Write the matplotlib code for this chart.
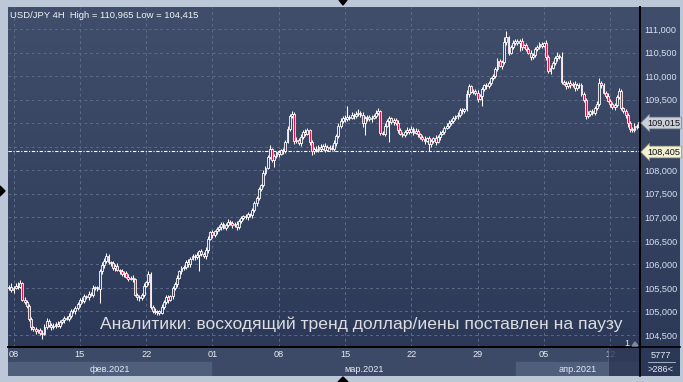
import numpy as np
import pandas as pd
import matplotlib
matplotlib.use('Agg')
import matplotlib.pyplot as plt
from matplotlib.patches import Rectangle, Polygon
from matplotlib.lines import Line2D

plt.rcParams['font.family'] = ['Liberation Sans', 'DejaVu Sans']

W, H, DPI = 683, 382, 100

# ---------------- data ----------------
symbol = 'USD/JPY'
timeframe = '4H'
first_bar_time = '2021-02-05 16:00'
first_open = 105.50
closes = [
    105.52, 105.45, 105.50, 105.55, 105.53, 105.60, 105.25, 105.20, 105.12, 104.85,
    104.66, 104.62, 104.58, 104.60, 104.55, 104.52, 104.68, 104.80, 104.72, 104.66,
    104.70, 104.74, 104.70, 104.78, 104.82, 104.86, 104.84, 104.90, 105.02, 105.00,
    105.08, 105.15, 105.25, 105.22, 105.33, 105.30, 105.38, 105.36, 105.50, 105.52,
    105.48, 105.85, 105.98, 106.08, 106.18, 106.05, 106.02, 105.92, 105.96, 105.88,
    105.85, 105.80, 105.82, 105.74, 105.70, 105.72, 105.68, 105.36, 105.30, 105.28,
    105.35, 105.55, 105.62, 105.80, 105.10, 105.02, 104.98, 105.00, 104.97, 105.10,
    105.20, 105.30, 105.25, 105.32, 105.50, 105.58, 105.72, 105.85, 105.92, 105.95,
    106.05, 106.00, 106.12, 106.18, 106.15, 106.20, 106.28, 106.22, 106.18, 106.30,
    106.55, 106.68, 106.62, 106.70, 106.75, 106.80, 106.85, 106.78, 106.84, 106.90,
    106.88, 106.83, 106.86, 106.80, 106.92, 106.98, 107.02, 107.00, 107.06, 107.04,
    107.15, 107.30, 107.40, 107.60, 107.68, 107.95, 108.05, 108.28, 108.45, 108.22,
    108.30, 108.38, 108.35, 108.42, 108.40, 108.60, 108.88, 109.15, 109.20, 108.62,
    108.65, 108.58, 108.70, 108.82, 108.78, 108.85, 108.60, 108.40, 108.45, 108.42,
    108.50, 108.46, 108.52, 108.44, 108.50, 108.48, 108.45, 108.58, 108.72, 108.95,
    109.05, 109.12, 109.08, 109.14, 109.12, 109.18, 109.15, 109.20, 109.22, 109.18,
    109.00, 109.10, 109.14, 109.08, 109.12, 109.15, 109.22, 109.25, 108.80, 108.78,
    108.95, 109.05, 109.10, 109.02, 109.06, 109.00, 108.85, 108.78, 108.75, 108.82,
    108.86, 108.82, 108.88, 108.80, 108.84, 108.76, 108.70, 108.66, 108.62, 108.68,
    108.55, 108.62, 108.68, 108.60, 108.70, 108.78, 108.82, 108.90, 108.95, 109.00,
    109.05, 109.10, 109.15, 109.18, 109.28, 109.25, 109.30, 109.62, 109.78, 109.66,
    109.68, 109.64, 109.52, 109.58, 109.72, 109.80, 109.78, 109.86, 109.95, 110.00,
    110.15, 110.32, 110.22, 110.30, 110.72, 110.82, 110.50, 110.62, 110.70, 110.74,
    110.70, 110.74, 110.62, 110.66, 110.58, 110.50, 110.40, 110.45, 110.58, 110.62,
    110.68, 110.64, 110.70, 110.40, 110.10, 110.18, 110.28, 110.38, 110.42, 110.40,
    109.88, 109.84, 109.78, 109.86, 109.80, 109.84, 109.74, 109.82, 109.80, 109.62,
    109.50, 109.15, 109.20, 109.26, 109.22, 109.32, 109.40, 109.85, 109.80, 109.64,
    109.58, 109.48, 109.40, 109.34, 109.38, 109.55, 109.68, 109.32, 109.26, 109.18,
    109.00, 108.88, 108.86, 108.95, 108.92, 109.015,
]
# wick lengths above / below the body, in hundredths of a yen
upper_wick = [
    5, 8, 4, 6, 7, 6, 3, 5, 4, 3,
    4, 3, 5, 2, 4, 6, 5, 7, 3, 4,
    5, 3, 6, 4, 3, 5, 4, 6, 3, 4,
    4, 5, 3, 6, 4, 3, 5, 4, 6, 3,
    3, 6, 8, 5, 6, 4, 3, 5, 4, 6,
    3, 5, 4, 3, 6, 4, 5, 3, 4, 6,
    4, 5, 3, 6, 4, 3, 5, 4, 3, 6,
    5, 4, 6, 3, 5, 4, 6, 3, 5, 4,
    4, 6, 3, 5, 4, 6, 3, 5, 4, 6,
    5, 4, 6, 3, 5, 4, 6, 5, 3, 6,
    4, 5, 3, 6, 4, 5, 3, 4, 6, 3,
    5, 4, 6, 5, 3, 6, 4, 5, 8, 3,
    4, 3, 5, 4, 6, 5, 6, 4, 5, 3,
    5, 4, 6, 3, 5, 4, 3, 5, 4, 6,
    3, 5, 4, 6, 3, 4, 5, 6, 4, 5,
    5, 4, 6, 22, 4, 5, 3, 6, 8, 4,
    5, 6, 4, 3, 5, 4, 6, 8, 3, 4,
    5, 4, 6, 3, 5, 4, 6, 5, 3, 4,
    5, 3, 6, 4, 5, 3, 4, 5, 6, 3,
    4, 5, 3, 6, 4, 5, 3, 4, 5, 6,
    4, 5, 3, 6, 4, 5, 3, 8, 5, 4,
    5, 4, 6, 3, 5, 4, 6, 3, 4, 5,
    4, 6, 5, 4, 10, 14.5, 3, 5, 6, 4,
    5, 4, 6, 3, 5, 4, 6, 3, 4, 5,
    4, 5, 3, 6, 4, 5, 3, 4, 10, 5,
    12, 4, 5, 3, 6, 4, 5, 3, 4, 5,
    5, 4, 6, 3, 5, 4, 8, 10, 4, 5,
    4, 5, 3, 6, 4, 5, 6, 4, 3, 5,
    4, 5, 3, 6, 4, 3,
]
lower_wick = [
    5, 4, 6, 3, 5, 4, 3, 5, 4, 6,
    5, 4, 6, 4, 6, 10.5, 3, 5, 4, 6,
    4, 6, 3, 5, 4, 6, 3, 5, 4, 3,
    5, 4, 6, 3, 5, 4, 6, 3, 5, 4,
    4, 30, 5, 6, 4, 5, 6, 4, 5, 3,
    5, 4, 6, 3, 5, 4, 6, 4, 5, 6,
    4, 5, 3, 6, 4, 5, 3, 5, 4, 3,
    5, 4, 6, 3, 5, 4, 6, 3, 5, 4,
    4, 5, 6, 3, 5, 4, 35, 5, 4, 6,
    5, 4, 6, 3, 5, 4, 6, 3, 5, 4,
    4, 5, 3, 6, 4, 5, 3, 4, 6, 3,
    5, 4, 6, 3, 5, 4, 6, 3, 5, 4,
    15, 4, 6, 3, 5, 4, 3, 5, 4, 6,
    5, 4, 6, 3, 5, 4, 6, 8, 5, 4,
    4, 5, 3, 6, 4, 5, 3, 4, 6, 3,
    5, 4, 6, 3, 5, 4, 6, 3, 5, 4,
    8, 26, 5, 4, 6, 3, 5, 4, 6, 3,
    5, 4, 45, 3, 5, 4, 6, 3, 5, 4,
    4, 5, 3, 6, 4, 5, 3, 4, 6, 3,
    14, 5, 4, 6, 3, 5, 4, 6, 3, 5,
    4, 5, 3, 6, 4, 5, 3, 4, 6, 3,
    5, 4, 6, 3, 22, 4, 6, 3, 5, 4,
    4, 5, 3, 6, 4, 5, 6, 3, 5, 4,
    5, 16, 6, 3, 5, 4, 6, 3, 5, 4,
    4, 5, 3, 6, 4, 5, 3, 4, 6, 3,
    5, 4, 6, 3, 5, 4, 6, 3, 5, 4,
    4, 6, 3, 5, 4, 5, 3, 4, 6, 3,
    5, 4, 6, 3, 5, 4, 3, 5, 4, 6,
    8, 6, 5, 4, 5, 3,
]
level_line = 108.405
price_ticks = [104.5, 105.0, 105.5, 106.0, 106.5, 107.0, 107.5,
               108.0, 108.5, 109.0, 109.5, 110.0, 110.5, 111.0]
month_names = {2: 'фев', 3: 'мар', 4: 'апр'}
headline = 'Аналитики: восходящий тренд доллар/иены поставлен на паузу'
footer_top = '5777'
footer_bottom = '>286<'
marker_text = '1'

# ---------------- derived ----------------
n = len(closes)
c = np.array(closes, dtype=float)
o = np.concatenate([[first_open], c[:-1]])
hi = np.maximum(o, c) + np.array(upper_wick) / 100.0
lo = np.minimum(o, c) - np.array(lower_wick) / 100.0
times = pd.date_range(first_bar_time, periods=n * 2, freq='4h')
times = times[times.dayofweek < 5][:n]
x = np.arange(n)


def fmt(v):
    return f"{v:.3f}".replace('.', ',')


def fx(px):
    return px / W


def fy(py):
    return 1 - py / H


# ---------------- figure ----------------
fig = plt.figure(figsize=(W / DPI, H / DPI), dpi=DPI)
fig.patch.set_facecolor('#bcc7d7')

# dark background with vertical gradient
bg = fig.add_axes([fx(8), fy(376), fx(672), 369 / H], zorder=0)
top_col = np.array(matplotlib.colors.to_rgb('#414e6b'))
bot_col = np.array(matplotlib.colors.to_rgb('#2a3756'))
t = np.linspace(0, 1, 256)[:, None]
grad = top_col[None, None, :] * (1 - t[..., None]) + bot_col[None, None, :] * t[..., None]
bg.imshow(grad, aspect='auto', extent=(0, 1, 0, 1))
bg.set_axis_off()

ylo = 111 - (347 - 29) / 47.08
yhi = 111 + (29 - 7) / 47.08

ax = fig.add_axes([fx(8), fy(347), fx(632), 340 / H], zorder=2)
ax.set_facecolor('none')
ax.set_xlim(-0.5, n - 0.5)
ax.set_ylim(ylo, yhi)

# grid
week_starts = [i for i, tm in enumerate(times) if tm.dayofweek == 0 and tm.hour == 0]
for p in price_ticks:
    ax.axhline(p, color='#5b6a88', lw=0.7, ls=(0, (3, 3)), zorder=1)
for i in week_starts:
    ax.axvline(i, color='#5b6a88', lw=0.7, ls=(0, (3, 3)), zorder=1)

# level line
ax.axhline(level_line, color='white', lw=0.8, ls=(0, (3, 1.5, 1, 1.5)), zorder=2)

# candles
ax.vlines(x, lo, hi, color='white', lw=0.75, zorder=3)
up = c >= o
body_b = np.minimum(o, c)
body_h = np.maximum(np.abs(c - o), 0.012)
ax.bar(x[up], body_h[up], bottom=body_b[up], width=0.85, color='#35435f',
       edgecolor='white', linewidth=0.6, zorder=4)
ax.bar(x[~up], body_h[~up], bottom=body_b[~up], width=0.85, color='#e8143f',
       edgecolor='white', linewidth=0.6, zorder=4)

# right axis labels (those hidden under the price boxes are left blank)
boxed = [c[-1], level_line]
ax.yaxis.tick_right()
ax.set_yticks(price_ticks)
ax.set_yticklabels(['' if min(abs(p - b) for b in boxed) < 0.12 else fmt(p) for p in price_ticks])
ax.tick_params(axis='y', length=0, pad=3, labelsize=6.6, labelcolor='#d8e2f2')
ax.set_xticks([])
for s in ['left', 'top']:
    ax.spines[s].set_visible(False)
for s in ['right', 'bottom']:
    ax.spines[s].set_color('black')
    ax.spines[s].set_linewidth(1.2)

# header & headline
fig.text(fx(10), fy(15), f"{symbol} {timeframe}  High = {fmt(hi.max())} Low = {fmt(lo.min())}",
         color='#eef2f8', fontsize=6.8, ha='left', va='center', zorder=5)
ax.text((622 - 8) / 632, 0.068, headline, transform=ax.transAxes, color='#dcdde0',
        fontsize=12.6, ha='right', va='center', zorder=6)

# bottom date panel
bx = fig.add_axes([fx(8), fy(376), fx(632), 29 / H], zorder=1)
bx.set_xlim(-0.5, n - 0.5)
bx.set_ylim(0, 1)
bx.set_axis_off()
bx.add_patch(Rectangle((-0.5, 0), n, 1, color='#3d4a67', zorder=0))
months = pd.Series(times.month)
for k, (m, grp) in enumerate(months.groupby(months, sort=True)):
    a, b = grp.index.min() - 0.5, grp.index.max() + 0.5
    if k % 2 == 0:
        bx.add_patch(Rectangle((a, 0), b - a, 0.5, color='#4f5e7b', zorder=1))
    bx.text((a + b) / 2, 0.24, f"{month_names[m]}.{times[grp.index.min()].year}",
            color='#e6ebf4', fontsize=6.6, ha='center', va='center', zorder=2)
for i in week_starts:
    bx.text(i, 0.74, f"{times[i].day:02d}", color='#e6ebf4', fontsize=6.6,
            ha='center', va='center', zorder=2)
hl_start = 271.2
bx.add_patch(Rectangle((hl_start, 0), n - 0.5 - hl_start, 1, facecolor='#2b3753',
                       alpha=0.8, edgecolor='#5b6a88', lw=0.6, zorder=3))

# frame lines
fig.add_artist(Line2D([fx(640), fx(640)], [fy(7), fy(376)], color='black', lw=1.2, zorder=10))
fig.add_artist(Line2D([fx(8), fx(680)], [fy(347), fy(347)], color='black', lw=1.2, zorder=10))

# bottom-right counters
fig.text(fx(661), fy(355), footer_top, color='#e6ebf4', fontsize=6.6, ha='center', va='center', zorder=5)
fig.add_artist(Line2D([fx(648), fx(675)], [fy(362), fy(362)], color='#b8c2d4', lw=0.6, zorder=5))
fig.text(fx(661), fy(369), footer_bottom, color='#e6ebf4', fontsize=6.6, ha='center', va='center', zorder=5)

# price boxes on the right
fig.text(fx(647), fy(123), fmt(c[-1]), color='#111111', fontsize=6.6, ha='left', va='center', zorder=12,
         bbox=dict(boxstyle='larrow,pad=0.15', fc='#c9ced8', ec='#7d8698', lw=0.5))
fig.text(fx(647), fy(152), fmt(level_line), color='#111111', fontsize=6.6, ha='left', va='center', zorder=12,
         bbox=dict(boxstyle='larrow,pad=0.15', fc='#f3f1d4', ec='#9a987f', lw=0.5))

# small marker near bottom right of plot
fig.text(fx(627), fy(343), marker_text, color='#e6ebf4', fontsize=6.6, ha='center', va='center', zorder=12)
fig.add_artist(Polygon([[fx(632), fy(346)], [fx(638), fy(346)], [fx(635), fy(342)]],
                       closed=True, color='#7d8aa3', zorder=12))

# scroll arrows on the frame
for pts in ([[339, 0], [347, 0], [343, 5]],
            [[338, 382], [348, 382], [343, 377]],
            [[0, 186], [0, 196], [5, 191]]):
    fig.add_artist(Polygon([[fx(a), fy(b)] for a, b in pts], closed=True, color='black', zorder=12))

fig.savefig('out.png', dpi=DPI, facecolor=fig.get_facecolor())
